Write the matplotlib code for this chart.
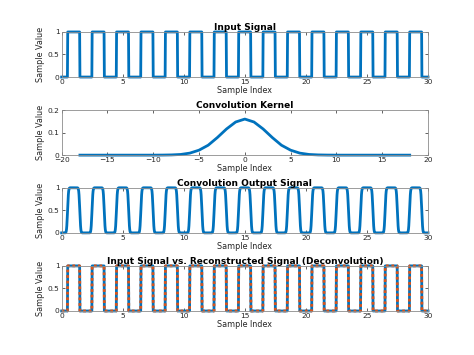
import numpy as np
import matplotlib
matplotlib.use('Agg')
import matplotlib.pyplot as plt

# Input square wave: start of each high pulse (each pulse is 1 unit wide)
pulse_starts = [0.5, 2.5, 4.5, 6.5, 8.5, 10.5, 12.5, 14.5,
                16.5, 18.5, 20.5, 22.5, 24.5, 26.5, 28.5]
pulse_width = 1.0
sample_step = 0.025
signal_end = 30

# Gaussian-like kernel (sample index -18..18)
kernel_index = list(range(-18, 19))
kernel_half = [0.160, 0.147, 0.116, 0.078, 0.044, 0.022, 0.009, 0.003,
               0.001, 0.0003, 0, 0, 0, 0, 0, 0, 0, 0, 0]
kernel_vals = kernel_half[:0:-1] + kernel_half

blue = '#0072BD'
orange = '#D95319'
grey_txt = '#262626'
box_col = '#8c8c8c'

# sampled input signal
t = np.arange(0, signal_end + sample_step / 2, sample_step)
x_in = np.zeros_like(t)
for s in pulse_starts:
    x_in[(t > s - 1e-9) & (t < s + pulse_width - 1e-9)] = 1.0

y_conv = np.convolve(x_in, kernel_vals, mode='same')
x_rec = x_in.copy()  # reconstructed signal from the deconvolution

plt.rcParams['font.family'] = 'DejaVu Sans'

fig = plt.figure(figsize=(4.74, 3.55), dpi=100)
left, width, height = 0.130, 0.773, 0.127
bottoms = [0.783, 0.563, 0.344, 0.124]
axs = [fig.add_axes([left, b, width, height]) for b in bottoms]

def style(ax, title):
    ax.set_title(title, fontsize=6.5, fontweight='bold', pad=1.5, color='black')
    ax.set_xlabel('Sample Index', fontsize=5.8, labelpad=0.5, color=grey_txt)
    ax.set_ylabel('Sample Value', fontsize=5.8, labelpad=2, color=grey_txt)
    ax.tick_params(direction='in', length=2.5, width=0.5, labelsize=5.4,
                   colors=grey_txt, pad=1.5, top=True, right=True)
    for sp in ax.spines.values():
        sp.set_color(box_col)
        sp.set_linewidth(0.6)

ax = axs[0]
ax.plot(t, x_in, color=blue, lw=2.0)
ax.set_xlim(0, 30)
ax.set_ylim(0, 1)
ax.set_yticks([0, 0.5, 1])
ax.set_yticklabels(['0', '0.5', '1'])
style(ax, 'Input Signal')

ax = axs[1]
ax.plot(kernel_index, kernel_vals, color=blue, lw=2.0)
ax.set_xlim(-20, 20)
ax.set_ylim(0, 0.2)
ax.set_xticks(range(-20, 21, 5))
ax.set_yticks([0, 0.1, 0.2])
ax.set_yticklabels(['0', '0.1', '0.2'])
style(ax, 'Convolution Kernel')

ax = axs[2]
ax.plot(t, y_conv, color=blue, lw=2.0)
ax.set_xlim(0, 30)
ax.set_ylim(0, 1)
ax.set_yticks([0, 0.5, 1])
ax.set_yticklabels(['0', '0.5', '1'])
style(ax, 'Convolution Output Signal')

ax = axs[3]
ax.plot(t, x_in, color=blue, lw=2.0)
ax.plot(t, x_rec, color=orange, lw=2.0, linestyle=(0, (1, 1)))
ax.set_xlim(0, 30)
ax.set_ylim(0, 1)
ax.set_yticks([0, 0.5, 1])
ax.set_yticklabels(['0', '0.5', '1'])
style(ax, 'Input Signal vs. Reconstructed Signal (Deconvolution)')

for a in axs:
    for line in a.get_lines():
        line.set_clip_on(False)

fig.savefig('out.png', dpi=100)
